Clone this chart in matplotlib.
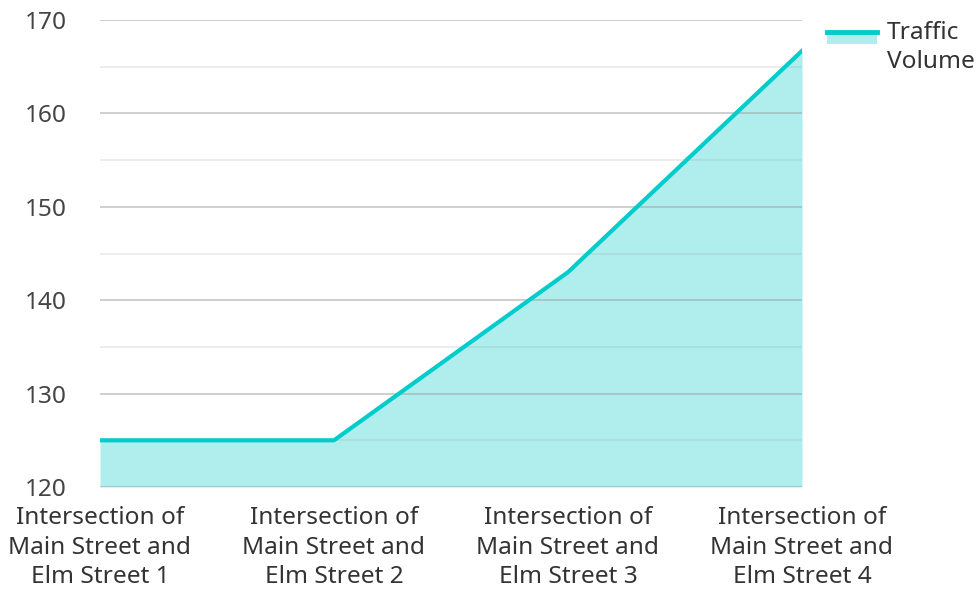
import matplotlib.pyplot as plt
from matplotlib.lines import Line2D
from matplotlib.patches import Rectangle

plt.rcParams['font.family'] = ['Noto Sans', 'DejaVu Sans']

categories = ['Intersection of\nMain Street and\nElm Street 1',
              'Intersection of\nMain Street and\nElm Street 2',
              'Intersection of\nMain Street and\nElm Street 3',
              'Intersection of\nMain Street and\nElm Street 4']
traffic_volume = [125, 125, 143, 166.7]
series_name = 'Traffic\nVolume'

line_color = '#00CCCC'
fill_color = '#B0EEEE'

fig = plt.figure(figsize=(9.76, 5.89), dpi=100)
ax = fig.add_axes([100 / 976, 1 - 487 / 589, 702 / 976, 467 / 589])

x = list(range(len(categories)))
ax.fill_between(x, traffic_volume, 120, color=fill_color, lw=0, zorder=1)
ax.plot(x, traffic_volume, color=line_color, lw=3, zorder=3)

ax.set_xlim(0, len(categories) - 1)
ax.set_ylim(120, 170)
ax.set_yticks(range(120, 171, 10))
ax.set_yticks(range(125, 171, 10), minor=True)
ax.grid(axis='y', which='major', color='#999999', alpha=0.5, lw=1.3, zorder=2)
ax.grid(axis='y', which='minor', color='#999999', alpha=0.2, lw=1.3, zorder=2)
ax.set_axisbelow(False)
for s in ax.spines.values():
    s.set_visible(False)

ax.set_xticks(x)
ax.set_xticklabels(categories, fontsize=17.6, color='#333333', linespacing=1.3)
ax.tick_params(axis='x', length=0, pad=14)
ax.tick_params(axis='y', which='both', length=0, pad=24, labelsize=17.6, labelcolor='#444444')

# legend drawn by hand
fig.add_artist(Rectangle((827 / 976, 1 - 44 / 589), 50 / 976, 13 / 589,
                         transform=fig.transFigure, color=fill_color, lw=0))
fig.add_artist(Line2D([827 / 976, 877 / 976], [1 - 32 / 589, 1 - 32 / 589],
                      transform=fig.transFigure, color=line_color, lw=3.5))
fig.text(887 / 976, 1 - 21 / 589, series_name, fontsize=17.6, color='#333333',
         va='top', ha='left', linespacing=1.3)

fig.savefig('out.png', dpi=100)
